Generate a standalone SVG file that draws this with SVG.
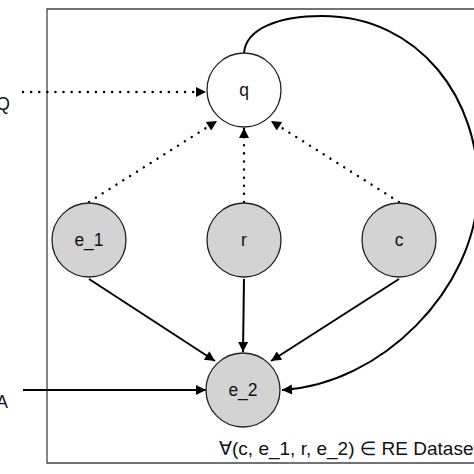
<svg xmlns="http://www.w3.org/2000/svg" width="474" height="474" viewBox="0 0 474 474">
<style>
.node{stroke:#222;stroke-width:1.3}
.obs{fill:#d3d3d3}
.lat{fill:#fff}
.lbl{font-family:"Liberation Sans",Arial,sans-serif;font-size:17.5px;fill:#111;text-anchor:middle}
.solid{fill:none;stroke:#000;stroke-width:2;marker-end:url(#ah)}
.dot{fill:none;stroke:#000;stroke-width:2.4;stroke-linecap:round;stroke-dasharray:0.1 8;marker-end:url(#ah)}
</style>
<defs>
<marker id="ah" viewBox="0 0 10 10" refX="10" refY="5" markerWidth="12" markerHeight="10" markerUnits="userSpaceOnUse" orient="auto">
<path d="M0,0 L10,5 L0,10 z" fill="#000"/>
</marker>
</defs>
<rect x="0" y="0" width="474" height="474" fill="#fff"/>
<g id="plate">
<path d="M480,9 H47 V463 H480" fill="none" stroke="#444" stroke-width="1.3"/>
<text x="219" y="455" font-family="'Liberation Sans',Arial,'DejaVu Sans',sans-serif" font-size="19" fill="#111">∀(c, e_1, r, e_2) ∈ RE Dataset</text>
</g>
<g id="connectors">
<path class="dot" d="M23,92 L206,92"/>
<path class="dot" d="M89,202 L217,121"/>
<path class="dot" d="M244,202 L244,128"/>
<path class="dot" d="M399,202 L271,121"/>
<path class="solid" d="M89,279 L215,361"/>
<path class="solid" d="M244,279 L243,352"/>
<path class="solid" d="M399,279 L271,361"/>
<path class="solid" d="M23,390 L206,390"/>
<path class="solid" d="M244,53 C246,28 280,16 322,16 C420,16 480,100 478,190 C476,290 380,385 282,390"/>
</g>
<g id="Q"><text class="lbl" x="3" y="110">Q</text></g>
<g id="A"><text class="lbl" x="2" y="408">A</text></g>
<g id="q"><circle class="node lat" cx="244" cy="90" r="37"/><text class="lbl" x="244" y="96">q</text></g>
<g id="e_1"><circle class="node obs" cx="89" cy="240" r="37"/><text class="lbl" x="89" y="246">e_1</text></g>
<g id="r"><circle class="node obs" cx="244" cy="240" r="37"/><text class="lbl" x="244" y="246">r</text></g>
<g id="c"><circle class="node obs" cx="399" cy="240" r="37"/><text class="lbl" x="399" y="246">c</text></g>
<g id="e_2"><circle class="node obs" cx="243" cy="390" r="37"/><text class="lbl" x="243" y="396">e_2</text></g>
</svg>
